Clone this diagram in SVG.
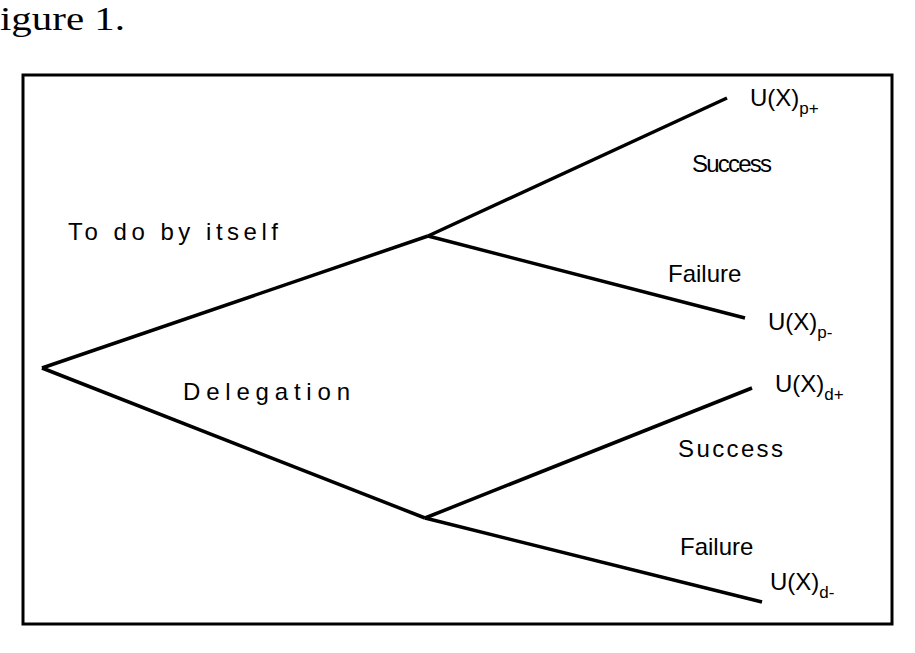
<svg xmlns="http://www.w3.org/2000/svg" width="915" height="653" viewBox="0 0 915 653">
<style>
text{font-family:"Liberation Sans",Arial,sans-serif;font-size:24px;fill:#000}
.s{font-size:17px}
.e{stroke:#000;stroke-width:3.5;fill:none}
</style>
<rect width="915" height="653" fill="#fff"/>
<text x="0" y="30" textLength="125" lengthAdjust="spacingAndGlyphs" style="font-family:'Liberation Serif',serif;font-size:34px">igure 1.</text>
<rect x="23" y="75" width="869" height="549" fill="none" stroke="#000" stroke-width="3"/>
<g id="connectors">
<line class="e" x1="42" y1="368" x2="428" y2="236"/>
<line class="e" x1="428" y1="236" x2="727" y2="98"/>
<line class="e" x1="428" y1="236" x2="745" y2="318"/>
<line class="e" x1="42" y1="368" x2="425" y2="518"/>
<line class="e" x1="425" y1="518" x2="752" y2="388"/>
<line class="e" x1="425" y1="518" x2="762" y2="602"/>
</g>
<g id="labels">
<text x="750" y="106">U(X)<tspan class="s" dy="8">p+</tspan></text>
<text x="692" y="172" textLength="80">Success</text>
<text x="68" y="240" textLength="210">To do by itself</text>
<text x="668" y="282">Failure</text>
<text x="768" y="330">U(X)<tspan class="s" dy="8">p-</tspan></text>
<text x="183" y="400" textLength="167">Delegation</text>
<text x="775" y="392">U(X)<tspan class="s" dy="8">d+</tspan></text>
<text x="678" y="457" textLength="105">Success</text>
<text x="680" y="555">Failure</text>
<text x="770" y="590">U(X)<tspan class="s" dy="8">d-</tspan></text>
</g>
</svg>
